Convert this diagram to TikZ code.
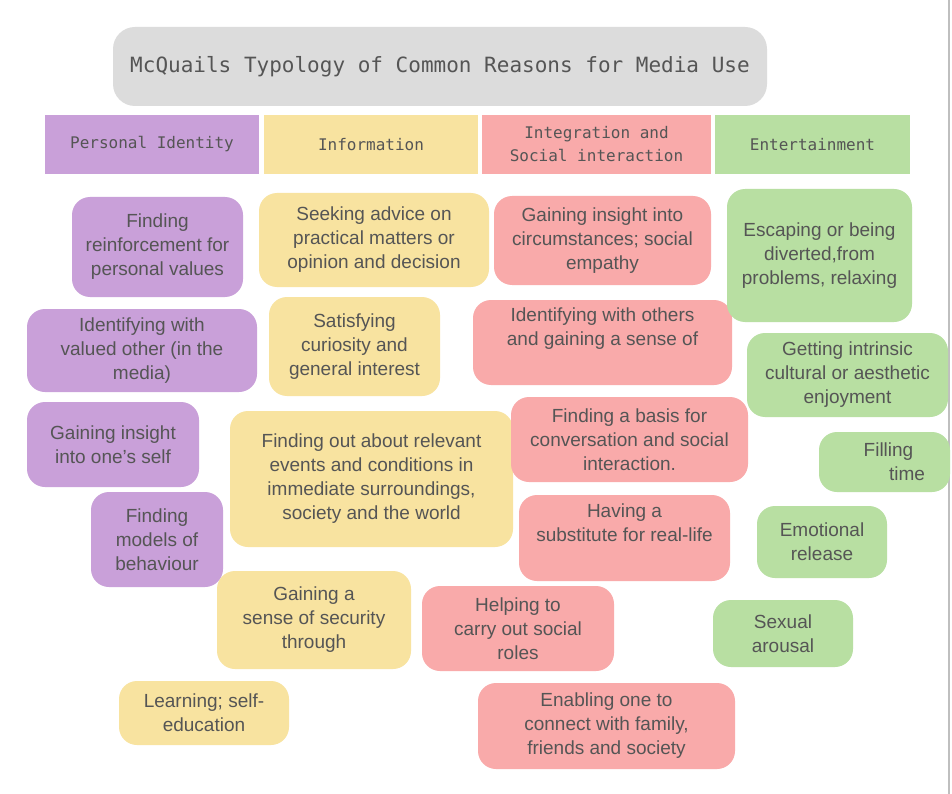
\documentclass[tikz,border=0pt]{standalone}
\usepackage{fontspec}
\setmainfont{Liberation Sans}
\setmonofont{DejaVu Sans Mono}
\definecolor{pur}{HTML}{C9A0D9}
\definecolor{yel}{HTML}{F8E3A0}
\definecolor{pnk}{HTML}{F9AAAA}
\definecolor{grn}{HTML}{B8DFA2}
\definecolor{ttl}{HTML}{DCDCDC}
\definecolor{txt}{HTML}{555555}
\tikzset{
 bx/.style n args={5}{},
 it/.style={rounded corners=18pt,inner sep=0pt,text=txt,align=center,font=\fontsize{19}{24}\selectfont},
 hd/.style={inner sep=0pt,text=txt,align=center,font=\ttfamily\fontsize{16}{23}\selectfont},
}
\newcommand{\itm}[7]{\node[it,fill=#6,minimum width=#3-#2,minimum height=#5-#4] (#1) at ({(#2+#3)/2},{(#4+#5)/2}) {#7};}
\newcommand{\hdr}[7]{\node[hd,fill=#6,minimum width=#3-#2,minimum height=#5-#4] (#1) at ({(#2+#3)/2},{(#4+#5)/2}) {#7};}
\begin{document}
\begin{tikzpicture}[x=1pt,y=-1pt]
\useasboundingbox[fill=white] (0,0) rectangle (952,794);
\fill[black!25] (948,0) rectangle (950,794);
\node[hd,fill=ttl,rounded corners=22pt,minimum width=654,minimum height=79,font=\ttfamily\fontsize{21}{26}\selectfont] (title) at (440,66.5) {McQuails Typology of Common Reasons for Media Use};
\hdr{h1}{45}{259}{115}{174}{pur}{Personal Identity}
\hdr{h2}{264}{478}{115}{174}{yel}{Information}
\hdr{h3}{482}{711}{115}{174}{pnk}{Integration and\\Social interaction}
\hdr{h4}{715}{910}{115}{174}{grn}{Entertainment}
\itm{a1}{72}{243}{197}{297}{pur}{Finding\\reinforcement for\\personal values}
\itm{a2}{27}{257}{309}{392}{pur}{Identifying with\\valued other (in the\\media)}
\itm{a3}{27}{199}{402}{487}{pur}{Gaining insight\\into one’s self}
\itm{a4}{91}{223}{492}{587}{pur}{Finding\\models of\\behaviour}
\itm{b1}{259}{489}{193}{287}{yel}{Seeking advice on\\practical matters or\\opinion and decision}
\itm{b2}{269}{440}{297}{396}{yel}{Satisfying\\curiosity and\\general interest}
\itm{b3}{230}{513}{411}{547}{yel}{Finding out about relevant\\events and conditions in\\immediate surroundings,\\society and the world}
\itm{b4}{217}{411}{571}{669}{yel}{Gaining a\\sense of security\\through}
\itm{b5}{119}{289}{681}{745}{yel}{Learning; self-\\education}
\itm{c1}{494}{711}{196}{285}{pnk}{Gaining insight into\\circumstances; social\\empathy}
\itm{c2}{473}{732}{300}{385}{pnk}{Identifying with others\\and gaining a sense of\\\strut}
\itm{c3}{511}{748}{397}{482}{pnk}{Finding a basis for\\conversation and social\\interaction.}
\itm{c4}{519}{730}{495}{581}{pnk}{Having a\\substitute for real-life\\\strut}
\itm{c5}{422}{614}{586}{671}{pnk}{Helping to\\carry out social\\roles}
\itm{c6}{478}{735}{683}{769}{pnk}{Enabling one to\\connect with family,\\friends and society}
\itm{d1}{727}{912}{189}{322}{grn}{Escaping or being\\diverted,from\\problems, relaxing}
\itm{d2}{747}{948}{333}{417}{grn}{Getting intrinsic\\cultural or aesthetic\\enjoyment}
\itm{d3}{819}{950}{432}{492}{grn}{\hspace*{8pt}Filling\\\hspace*{45pt}time}
\itm{d4}{757}{887}{506}{578}{grn}{Emotional\\release}
\itm{d5}{713}{853}{600}{667}{grn}{Sexual\\arousal}
\end{tikzpicture}
\end{document}
